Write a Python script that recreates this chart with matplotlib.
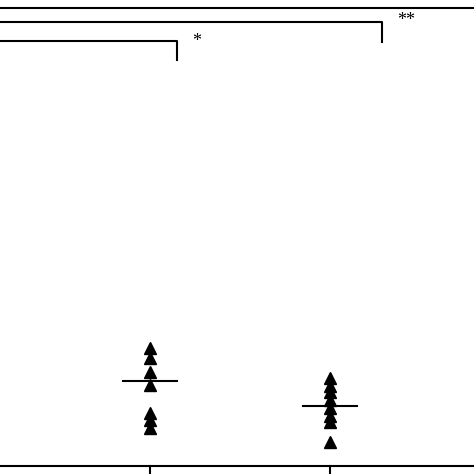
import matplotlib.pyplot as plt

# values read in pixel units above the x axis
group_x = [150, 330]
group1 = [118, 108, 94, 81, 53, 46, 38]
group2 = [88, 80, 74, 66, 58, 50, 44, 24]
means = [85, 60]

fig = plt.figure(figsize=(4.74, 4.74), dpi=100)
ax = fig.add_axes([0, 0, 1, 1])
ax.set_xlim(0, 474)
ax.set_ylim(-8, 466)

for x, vals in zip(group_x, [group1, group2]):
    ax.plot([x] * len(vals), vals, '^', color='black', markersize=8, linestyle='none')
for x, m in zip(group_x, means):
    ax.plot([x - 27, x + 27], [m, m], color='black', lw=1.5)

# axis line and ticks
ax.plot([0, 474], [0, 0], color='black', lw=1.5)
for x in group_x:
    ax.plot([x, x], [0, -8], color='black', lw=1.5)
# top frame
ax.plot([0, 474], [458, 458], color='black', lw=1.5)

# significance brackets
ax.plot([0, 382, 382], [444, 444, 424], color='black', lw=1.5)
ax.text(406, 446, '**', fontsize=13, family='Liberation Serif', ha='center', va='center')
ax.plot([0, 177, 177], [425, 425, 406], color='black', lw=1.5)
ax.text(197, 425, '*', fontsize=13, family='Liberation Serif', ha='center', va='center')

ax.axis('off')
fig.savefig('out.png', dpi=100)
